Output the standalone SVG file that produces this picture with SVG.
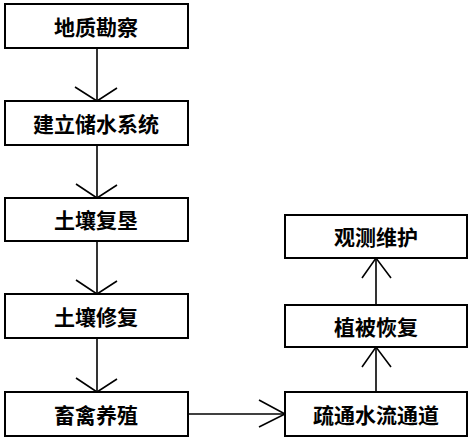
<svg xmlns="http://www.w3.org/2000/svg" width="474" height="441" viewBox="0 0 474 441">
<style>
.box{fill:#fff;stroke:#000;stroke-width:2}
.lbl{font-family:"Noto Sans CJK SC","Noto Sans CJK JP",sans-serif;font-size:21px;font-weight:bold;fill:#000;text-anchor:middle;dominant-baseline:central}
.ln{fill:none;stroke:#000;stroke-width:1.6}
</style>
<rect width="474" height="441" fill="#fff"/>
<g id="connectors">
<line class="ln" x1="97" y1="48" x2="97" y2="101"/>
<polyline class="ln" points="75,87 97,101 117,88"/>
<line class="ln" x1="97" y1="145" x2="97" y2="198"/>
<polyline class="ln" points="76,184 97,198 117,185"/>
<line class="ln" x1="97" y1="241" x2="97" y2="294"/>
<polyline class="ln" points="76,280 97,294 117,281"/>
<line class="ln" x1="97" y1="338" x2="97" y2="392"/>
<polyline class="ln" points="76,378 97,392 117,379"/>
<line class="ln" x1="188" y1="414" x2="285" y2="414"/>
<polyline class="ln" points="259,400 285,414 259,427"/>
<line class="ln" x1="376" y1="392" x2="376" y2="347"/>
<polyline class="ln" points="362,367 376,347 391,367"/>
<line class="ln" x1="376" y1="305" x2="376" y2="258"/>
<polyline class="ln" points="362,278 376,258 391,278"/>
</g>
<g id="n1"><rect class="box" x="5" y="4" width="183" height="44"/><text class="lbl" x="96" y="26">地质勘察</text></g>
<g id="n2"><rect class="box" x="5" y="101" width="183" height="44"/><text class="lbl" x="96" y="123">建立储水系统</text></g>
<g id="n3"><rect class="box" x="5" y="198" width="183" height="43"/><text class="lbl" x="96" y="219">土壤复垦</text></g>
<g id="n4"><rect class="box" x="5" y="294" width="183" height="44"/><text class="lbl" x="96" y="316">土壤修复</text></g>
<g id="n5"><rect class="box" x="5" y="392" width="183" height="44"/><text class="lbl" x="96" y="414">畜禽养殖</text></g>
<g id="n6"><rect class="box" x="285" y="392" width="182" height="44"/><text class="lbl" x="376" y="414">疏通水流通道</text></g>
<g id="n7"><rect class="box" x="285" y="305" width="182" height="42"/><text class="lbl" x="376" y="326">植被恢复</text></g>
<g id="n8"><rect class="box" x="285" y="215" width="182" height="43"/><text class="lbl" x="376" y="236">观测维护</text></g>
</svg>
